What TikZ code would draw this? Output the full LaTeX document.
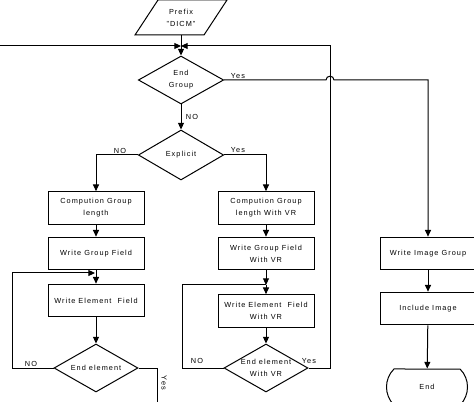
\documentclass[tikz,border=0pt]{standalone}
\usepackage{fontspec}
\setmainfont{Liberation Sans}[LetterSpace=14]
\usetikzlibrary{shapes.geometric,shapes.misc,arrows.meta}
\newcommand\flowfont{\fontsize{5.5}{9}\selectfont}
\tikzset{
  box/.style={draw, rectangle, minimum width=72pt, minimum height=24.5pt, inner sep=0pt, align=center, font=\flowfont},
  dec/.style={draw, diamond, aspect=1.8, inner sep=0pt, minimum width=64pt, minimum height=36pt, align=center, font=\flowfont},
  term/.style={draw, rounded rectangle, rounded rectangle arc length=90, minimum width=60.75pt, minimum height=27pt, inner sep=0pt, font=\flowfont},
  lab/.style={font=\flowfont, inner sep=0.5pt},
  arr/.style={-{Triangle[length=5pt,width=4.5pt]}},
}
\begin{document}
\begin{tikzpicture}[x=0.75pt,y=-0.75pt,line width=0.75pt]
\useasboundingbox (0,0) rectangle (474,402);
\clip (0,0) rectangle (474,402);
% input parallelogram
\draw (135,35) -- (204,35) -- (227,0) -- (158,0) -- cycle;
\node[lab, align=center] (prefix) at (181,18) {Prefix\\"DICM"};
\coordinate (pb) at (181,35);
\coordinate (jn) at (181,46);
% nodes
\node[dec] (eg) at (181,80) {End\\Group};
\node[dec, minimum height=37.5pt] (ex) at (181,155) {Explicit};
\node[box] (b1) at (96,208) {Compution Group\\length};
\node[box] (b2) at (96,253.5) {Write Group Field};
\node[box] (b3) at (96,300.5) {Write Element\ \ Field};
\node[dec, minimum width=63pt] (d1) at (96,368) {End element};
\node[box] (m1) at (266,208) {Compution Group\\length With VR};
\node[box] (m2) at (266,253.5) {Write Group Field\\With VR};
\node[box] (m3) at (266,311) {Write Element\ \ Field\\With VR};
\node[dec, minimum width=63pt] (d2) at (266,368) {End element\\With VR};
\node[box] (r1) at (428,253.5) {Write Image Group};
\node[box] (r2) at (428,308.5) {Include Image};
\node[term] (end) at (427,387) {End};
\coordinate (jm) at (266,285);
% connectors
\draw[arr] (pb) -- (eg.north);
\draw[arr] (eg.south) -- (ex.north);
\draw[arr] (eg.east) -- (326,80) .. controls (326,75) and (334,75) .. (334,80) -- (428,80) -- (r1.north);
\draw[arr] (ex.west) -| (b1.north);
\draw[arr] (ex.east) -| (m1.north);
\draw[arr] (b1) -- (b2);
\draw[arr] (b2) -- (b3);
\draw[arr] (b3) -- (d1);
\draw[arr] (d1.west) -- (12,368) -- (12,273) -- (95,273);
\draw[arr] (d1.east) -- (157,368) -- (157,420) -- (-6,420) -- (-6,46) -- (jn);
\draw[arr] (m1) -- (m2);
\draw[arr] (m2) -- (jm);
\draw[arr] (jm) -- (m3);
\draw[arr] (m3) -- (d2);
\draw (d2.west) -- (182,368) -- (182,285) -- (jm);
\draw[arr] (d2.east) -- (330,368) -- (330,46) -- (jn);
\draw[arr] (r1) -- (r2);
\draw[arr] (r2) -- (end);
% labels
\node[lab] (l1) at (238,76) {Yes};
\node[lab] (l2) at (192,117) {NO};
\node[lab] (l3) at (120,151) {NO};
\node[lab] (l4) at (238,150) {Yes};
\node[lab] (l5) at (31,364) {NO};
\node[lab, rotate=-90] (l6) at (164,383) {Yes};
\node[lab] (l7) at (197,361) {NO};
\node[lab] (l8) at (309,361) {Yes};
\end{tikzpicture}
\end{document}
